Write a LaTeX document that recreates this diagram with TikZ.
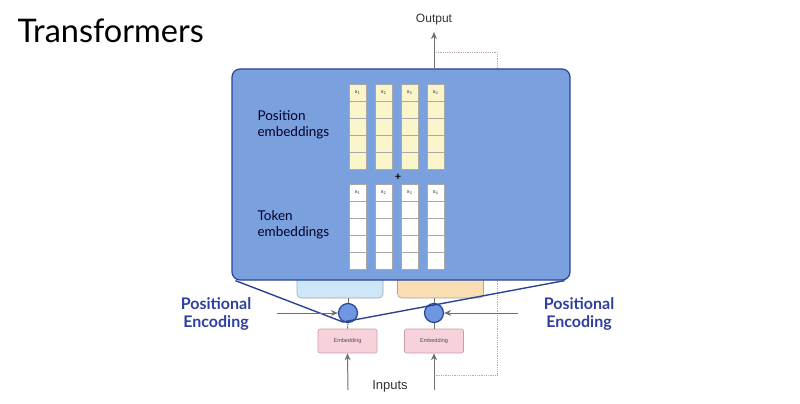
\documentclass[tikz,border=0pt]{standalone}
\usepackage{fontspec}
\setmainfont{Lato}
\newfontfamily\arialfont{Liberation Sans}
\usetikzlibrary{arrows.meta}
\definecolor{boxfill}{HTML}{7BA0DE}
\definecolor{boxline}{HTML}{2A4396}
\definecolor{yellowcell}{HTML}{FBF5CB}
\definecolor{cellline}{HTML}{A8A8A8}
\definecolor{lightblue}{HTML}{CDE7F8}
\definecolor{lightorange}{HTML}{F9DDB3}
\definecolor{pinkfill}{HTML}{F7D2DA}
\definecolor{pinkline}{HTML}{C79DA8}
\definecolor{circfill}{HTML}{6F96E0}
\definecolor{labelblue}{HTML}{2F3F9E}
\definecolor{arrowgray}{HTML}{707070}
\definecolor{dotgray}{HTML}{BCA5B2}
\begin{document}
\begin{tikzpicture}[x=1pt,y=-1pt,
    cell/.style={draw=cellline, line width=0.5pt, minimum width=17pt, minimum height=17pt, inner sep=0pt},
    poscell/.style={cell, fill=yellowcell},
    tokcell/.style={cell, fill=white},
    sub/.style={font=\fontsize{5.5}{5.5}\selectfont, text=black!80},
    sidebox/.style={draw=black!35, line width=0.6pt, rounded corners=4pt, minimum width=86pt, minimum height=30pt},
    embbox/.style={draw=pinkline, fill=pinkfill, line width=0.6pt, rounded corners=2pt, minimum width=59pt, minimum height=24pt, inner sep=0pt, font=\arialfont\fontsize{5.5}{6}\selectfont, text=black!70},
    addcirc/.style={circle, draw=boxline, fill=circfill, line width=1.2pt, minimum size=19pt, inner sep=0pt},
    arr/.style={draw=arrowgray, line width=1pt, -{Stealth[length=7pt,width=6pt]}},
    plain/.style={draw=arrowgray, line width=0.8pt},
    pelabel/.style={font=\bfseries\fontsize{16}{18}\selectfont, text=labelblue, align=center},
    emlabel/.style={font=\fontsize{13.5}{16}\selectfont, text=black!85!blue, align=left, anchor=west}]
  \useasboundingbox (0,0) rectangle (800,404);
  % title
  \node[anchor=west, font=\fontsize{32.5}{36}\selectfont] (title) at (14,31) {Transformers};
  % dotted residual path behind the block
  \draw[dotgray, densely dotted, line width=0.8pt] (436,52) -- (497,52) -- (497,375) -- (435,375);
  % blocks behind the encoder box
  \node[sidebox, fill=lightblue] (addl) at (340,283) {};
  \node[sidebox, fill=lightorange] (addr) at (440.5,283) {};
  % encoder box
  \node[draw=boxline, fill=boxfill, line width=1.2pt, rounded corners=8pt, minimum width=338pt, minimum height=211pt] (enc) at (401,174.5) {};
  % embedding columns
  \foreach \i/\x in {1/357.5,2/383.5,3/409.5,4/435.5} {
    \foreach \j in {0,...,4} {
      \node[poscell] (p\i-\j) at (\x,{92.5+17*\j}) {};
      \node[tokcell] (t\i-\j) at (\x,{192.5+17*\j}) {};
    }
    \node[sub] at (p\i-0) {x\textsubscript{\i}};
    \node[sub] at (t\i-0) {x\textsubscript{\i}};
  }
  \node[font=\bfseries\fontsize{11}{11}\selectfont] (plus) at (398,177) {+};
  \node[emlabel] (poslab) at (254,125) {Position\\embeddings};
  \node[emlabel] (toklab) at (254,225) {Token\\embeddings};
  % adders and embeddings
  \node[addcirc] (c1) at (348,313) {};
  \node[addcirc] (c2) at (434,313) {};
  \node[embbox] (e1) at (347.5,341) {Embedding};
  \node[embbox] (e2) at (434,341) {Embedding};
  \draw[plain] (c1.north) -- (addl.south -| c1.north);
  \draw[plain] (c2.north) -- (addr.south -| c2.north);
  \draw[plain] (e1.north) -- (c1.south);
  \draw[plain] (e2.north) -- (c2.south);
  % zoom lines from the box to the first adder
  \coordinate (vtip) at (343,322);
  \draw[boxline, line width=1.4pt] ([xshift=4pt]enc.south west) -- (vtip) -- ([xshift=-6pt]enc.south east);
  % positional encoding inputs
  \coordinate (pel) at (277,313);
  \coordinate (per) at (518,313);
  \draw[arr] (pel) -- (c1.west);
  \draw[arr] (per) -- (c2.east);
  \node[pelabel] (posl) at (216,314) {Positional\\Encoding};
  \node[pelabel] (posr) at (579,314) {Positional\\Encoding};
  % inputs and output
  \coordinate (in1) at (348,390);
  \coordinate (in2) at (434,390);
  \draw[arr] (in1) -- (e1.south);
  \draw[arr] (in2) -- (e2.south);
  \node[font=\arialfont\fontsize{13}{14}\selectfont, text=black!80] (inputs) at (390,386) {Inputs};
  \coordinate (outtip) at (434,32);
  \draw[arr] (enc.north -| outtip) -- (outtip);
  \node[font=\arialfont\fontsize{12}{13}\selectfont, text=black!80] (output) at (434,20) {Output};
\end{tikzpicture}
\end{document}
